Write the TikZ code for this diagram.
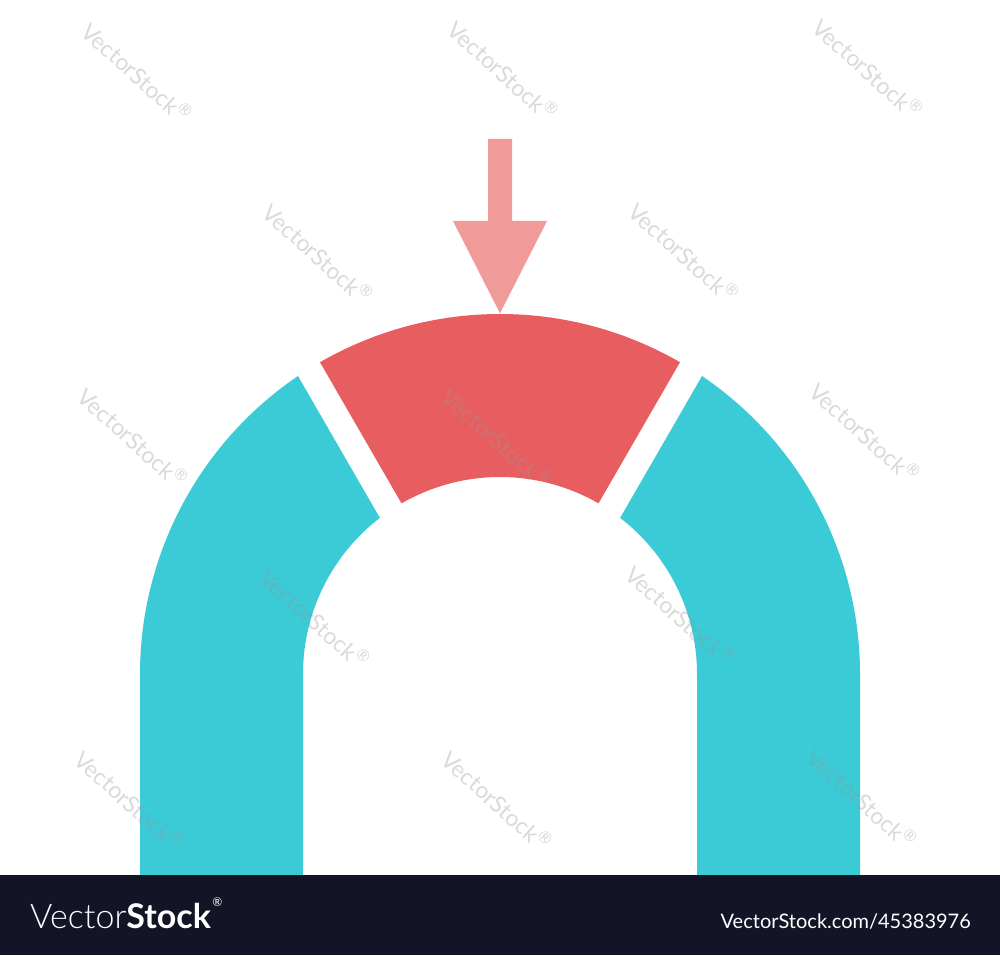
\documentclass[tikz,border=0pt]{standalone}
\usepackage{fontspec}
\setmainfont{Lato}
\IfFontExistsTF{Lato Light}{\newfontfamily\lightfont{Lato Light}}{\newfontfamily\lightfont{Lato}}
\definecolor{archcyan}{RGB}{59,203,214}
\definecolor{archred}{RGB}{232,94,96}
\definecolor{arrowpink}{RGB}{240,154,154}
\definecolor{bardark}{RGB}{19,20,38}
\definecolor{wmgray}{RGB}{150,150,150}
\tikzset{
  wm/.style={rotate=-42, text=wmgray, opacity=0.35, font=\fontsize{23}{23}\selectfont, inner sep=0pt},
  segcyan/.style={fill=archcyan},
  segred/.style={fill=archred},
}
\begin{document}
\begin{tikzpicture}[x=1pt,y=1pt]
\useasboundingbox (0,0) rectangle (1000,955);
\fill[white] (0,0) rectangle (1000,955);
\clip (0,0) rectangle (1000,955);
\coordinate (c) at (500,281);
% left cyan leg
\path[segcyan] (140,80) -- (140,281) arc[start angle=180, end angle=124.14, radius=360]
  -- ([shift={(c)}]127.58:197) arc[start angle=127.58, end angle=180, radius=197]
  -- (303,80) -- cycle;
% right cyan leg
\path[segcyan] (860,80) -- (860,281) arc[start angle=0, end angle=55.86, radius=360]
  -- ([shift={(c)}]52.42:197) arc[start angle=52.42, end angle=0, radius=197]
  -- (697,80) -- cycle;
% red keystone
\path[segred] ([shift={(c)}]60:360) arc[start angle=60, end angle=120, radius=360]
  -- ([shift={(c)}]120:197) arc[start angle=120, end angle=60, radius=197] -- cycle;
% arrow
\fill[arrowpink] (488,816) -- (512,816) -- (512,734) -- (547,734) -- (500,641.7)
  -- (453,734) -- (488,734) -- cycle;
% watermarks
\foreach \px/\py in {137/72, 503/70, 868/68, 318/253, 684/252,
  133/437, 497/437, 865/432, 315/618, 681/615, 130/800, 497/800, 862/798}
  \node[wm] at (\px, 955-\py) {VectorStock\textsuperscript{\textregistered}};
% bottom bar
\fill[bardark] (0,0) rectangle (1000,80);
\node[anchor=base west, inner sep=0pt, text=white, font=\fontsize{34}{34}\selectfont] (logo) at (30,27)
  {{\lightfont Vector}{\bfseries Stock}};
\node[anchor=south west, inner sep=0pt, text=white, font=\fontsize{12}{12}\selectfont] (reg) at ([xshift=1pt,yshift=-4pt]logo.north east) {\textregistered};
\node[anchor=base east, inner sep=0pt, text=white, font=\fontsize{20}{20}\selectfont] (url) at (971,27)
  {VectorStock.com/45383976};
\end{tikzpicture}
\end{document}
